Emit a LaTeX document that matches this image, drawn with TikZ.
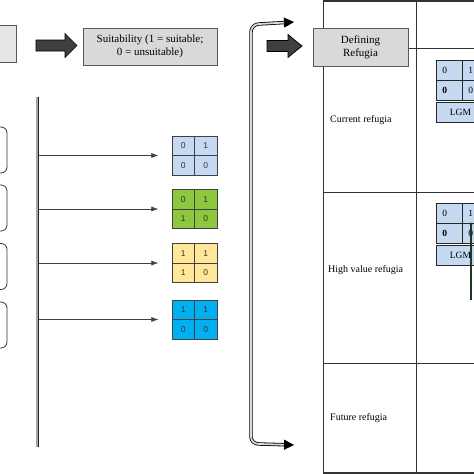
\documentclass[tikz,border=0pt]{standalone}
\usepackage{fontspec}
\setmainfont{Liberation Serif}
\setsansfont{Liberation Sans}
\usepackage{tikz}
\usetikzlibrary{shapes,arrows,arrows.meta}
\usetikzlibrary{shapes.geometric}
\usetikzlibrary{matrix,positioning}
\definecolor{boxgray}{HTML}{D9D9D9}
\definecolor{arrowgray}{HTML}{3F3F3F}
\definecolor{cellblue}{HTML}{C5D9F1}
\definecolor{cellgreen}{HTML}{8DC63F}
\definecolor{cellyellow}{HTML}{FFE699}
\definecolor{cellcyan}{HTML}{00B0F0}
\definecolor{linegreen}{HTML}{1E3A1E}
\tikzstyle{block} = [rectangle, draw=black!65, fill=boxgray, line width=0.8pt,
align=center, font=\fontsize{11}{13}\selectfont, inner sep=0pt]
\tikzstyle{model} = [rectangle, draw=black!80, fill=white, rounded corners=6pt,
line width=0.8pt, minimum width=60pt, minimum height=46pt]
\tikzstyle{fat} = [draw=black, fill=arrowgray, line width=0.7pt]
\tikzstyle{line} = [draw, -{Latex[length=7pt,width=5pt]}, black!75, line width=0.6pt]
\tikzstyle{bus} = [draw=black!85, double=black!35, double distance=1.2pt, line width=0.9pt]
\tikzstyle{bracket} = [draw=black, double=black!15, double distance=1.8pt, line width=0.8pt,
{Triangle[length=10pt,width=10pt]}-{Triangle[length=10pt,width=10pt]}]
\tikzstyle{tab} = [draw=black!80, line width=0.8pt]
\tikzstyle{rowlabel} = [anchor=west, inner sep=0pt, font=\fontsize{10}{12}\selectfont]
\tikzstyle{lgm} = [rectangle, draw=black!85, fill=cellblue, line width=0.8pt,
minimum height=20pt, inner sep=0pt, font=\fontsize{9.5}{11}\selectfont]
\tikzstyle{lgmcell} = [lgm, text width=14pt, inner xsep=6pt, align=left]

% block arrow: tail x, centre y, head base x, tip x, head half width
\newcommand{\fatarrow}[5]{%
\filldraw[fat] (#1,#2-5.5) -- (#3,#2-5.5) -- (#3,#2-#5) -- (#4,#2) -- (#3,#2+#5)
-- (#3,#2+5.5) -- (#1,#2+5.5) -- cycle;}

\begin{document}
\begin{tikzpicture}[x=1pt, y=-1pt,
quad/.style={
	matrix of nodes,
	inner sep=0pt,
	column sep=-0.8pt,
	row sep=-0.8pt,
	nodes={draw=black!75, fill=#1, line width=0.8pt, minimum width=22.5pt,
		minimum height=19.5pt, inner sep=0pt, text=black!80,
		font=\sffamily\fontsize{8.5}{9}\selectfont}
}
]
\path[use as bounding box] (0,0) rectangle (474,474);
\clip (0,0) rectangle (474,474);
\fill[white] (0,0) rectangle (474,474);

% Table
\draw[tab] (323,0) -- (323,474);
\draw[tab] (416,0) -- (416,474);
\draw[tab] (323,48) -- (474,48);
\draw[tab] (323,192) -- (474,192);
\draw[tab] (323,363) -- (474,363);
\draw[tab, line width=1.6pt] (323,0.8) -- (474,0.8);
\draw[tab, line width=1.6pt] (323,473) -- (474,473);

% Place nodes
\node [block, fill=black!10, minimum width=56pt, minimum height=37pt] (src) at (-12,43.5) {};
\node [block, minimum width=134pt, minimum height=37pt] (suit) at (150,46.5) {Suitability (1 = suitable;\\ 0 = unsuitable)};
\node [block, minimum width=95pt, minimum height=38pt] (refu) at (360.5,47) {Defining\\ Refugia};
\fatarrow{36}{45.5}{65}{77}{12}
\fatarrow{267}{46}{288}{302}{11.5}

\node [model] (m1) at (-23,150) {};
\node [model] (m2) at (-23,208) {};
\node [model] (m3) at (-23,266.5) {};
\node [model] (m4) at (-23,325) {};

\matrix [quad=cellblue] (g1) at (194.5,155.5) {0 & 1\\ 0 & 0\\};
\matrix [quad=cellgreen] (g2) at (194.5,209) {0 & 1\\ 1 & 0\\};
\matrix [quad=cellyellow] (g3) at (194.5,263) {1 & 1\\ 1 & 0\\};
\matrix [quad=cellcyan] (g4) at (194.5,319.5) {1 & 1\\ 0 & 0\\};

\node [rowlabel] (r1) at (330,120) {Current refugia};
\node [rowlabel] (r2) at (328,270) {High value refugia};
\node [rowlabel] (r3) at (330,418) {Future refugia};

% LGM grids
\node [lgmcell, anchor=north west] (a1) at (436,60) {0};
\node [lgmcell, right=-0.8pt of a1] (a2) {1};
\node [lgmcell, below=-0.8pt of a1] (a3) {\textbf{0}};
\node [lgmcell, right=-0.8pt of a3] (a4) {0};
\node [lgm, minimum width=48pt, anchor=north west] (a5) at ([yshift=-0.8pt]a3.south west) {LGM};

\node [lgmcell, anchor=north west] (b1) at (436,203) {0};
\node [lgmcell, right=-0.8pt of b1] (b2) {1};
\node [lgmcell, below=-0.8pt of b1] (b3) {\textbf{0}};
\node [lgmcell, right=-0.8pt of b3] (b4) {0};
\node [lgm, minimum width=48pt, anchor=north west] (b5) at ([yshift=-0.8pt]b3.south west) {LGM};

\coordinate (bustop) at (37,97);
\coordinate (busbot) at (37,447);
\coordinate (brtop) at (294,22);
\coordinate (brbot) at (294,445);
\coordinate (gtop) at (471,224);
\coordinate (gbot) at (471,300);

% Draw edges
\draw [bus] (bustop) -- (busbot);
\foreach \g in {g1,g2,g3,g4}
\path [line, shorten <=1.5pt, shorten >=13pt] (bustop |- \g.west) -- (\g.west);
\draw [bracket] (brtop) -- (259,24) to[out=180,in=90] (251,32) -- (251,437) to[out=-90,in=180] (259,444) -- (brbot);
\draw [linegreen, line width=2pt] (gtop) -- (gbot);
\fill [linegreen] (gtop) circle (1.6pt);
\end{tikzpicture}
\end{document}
